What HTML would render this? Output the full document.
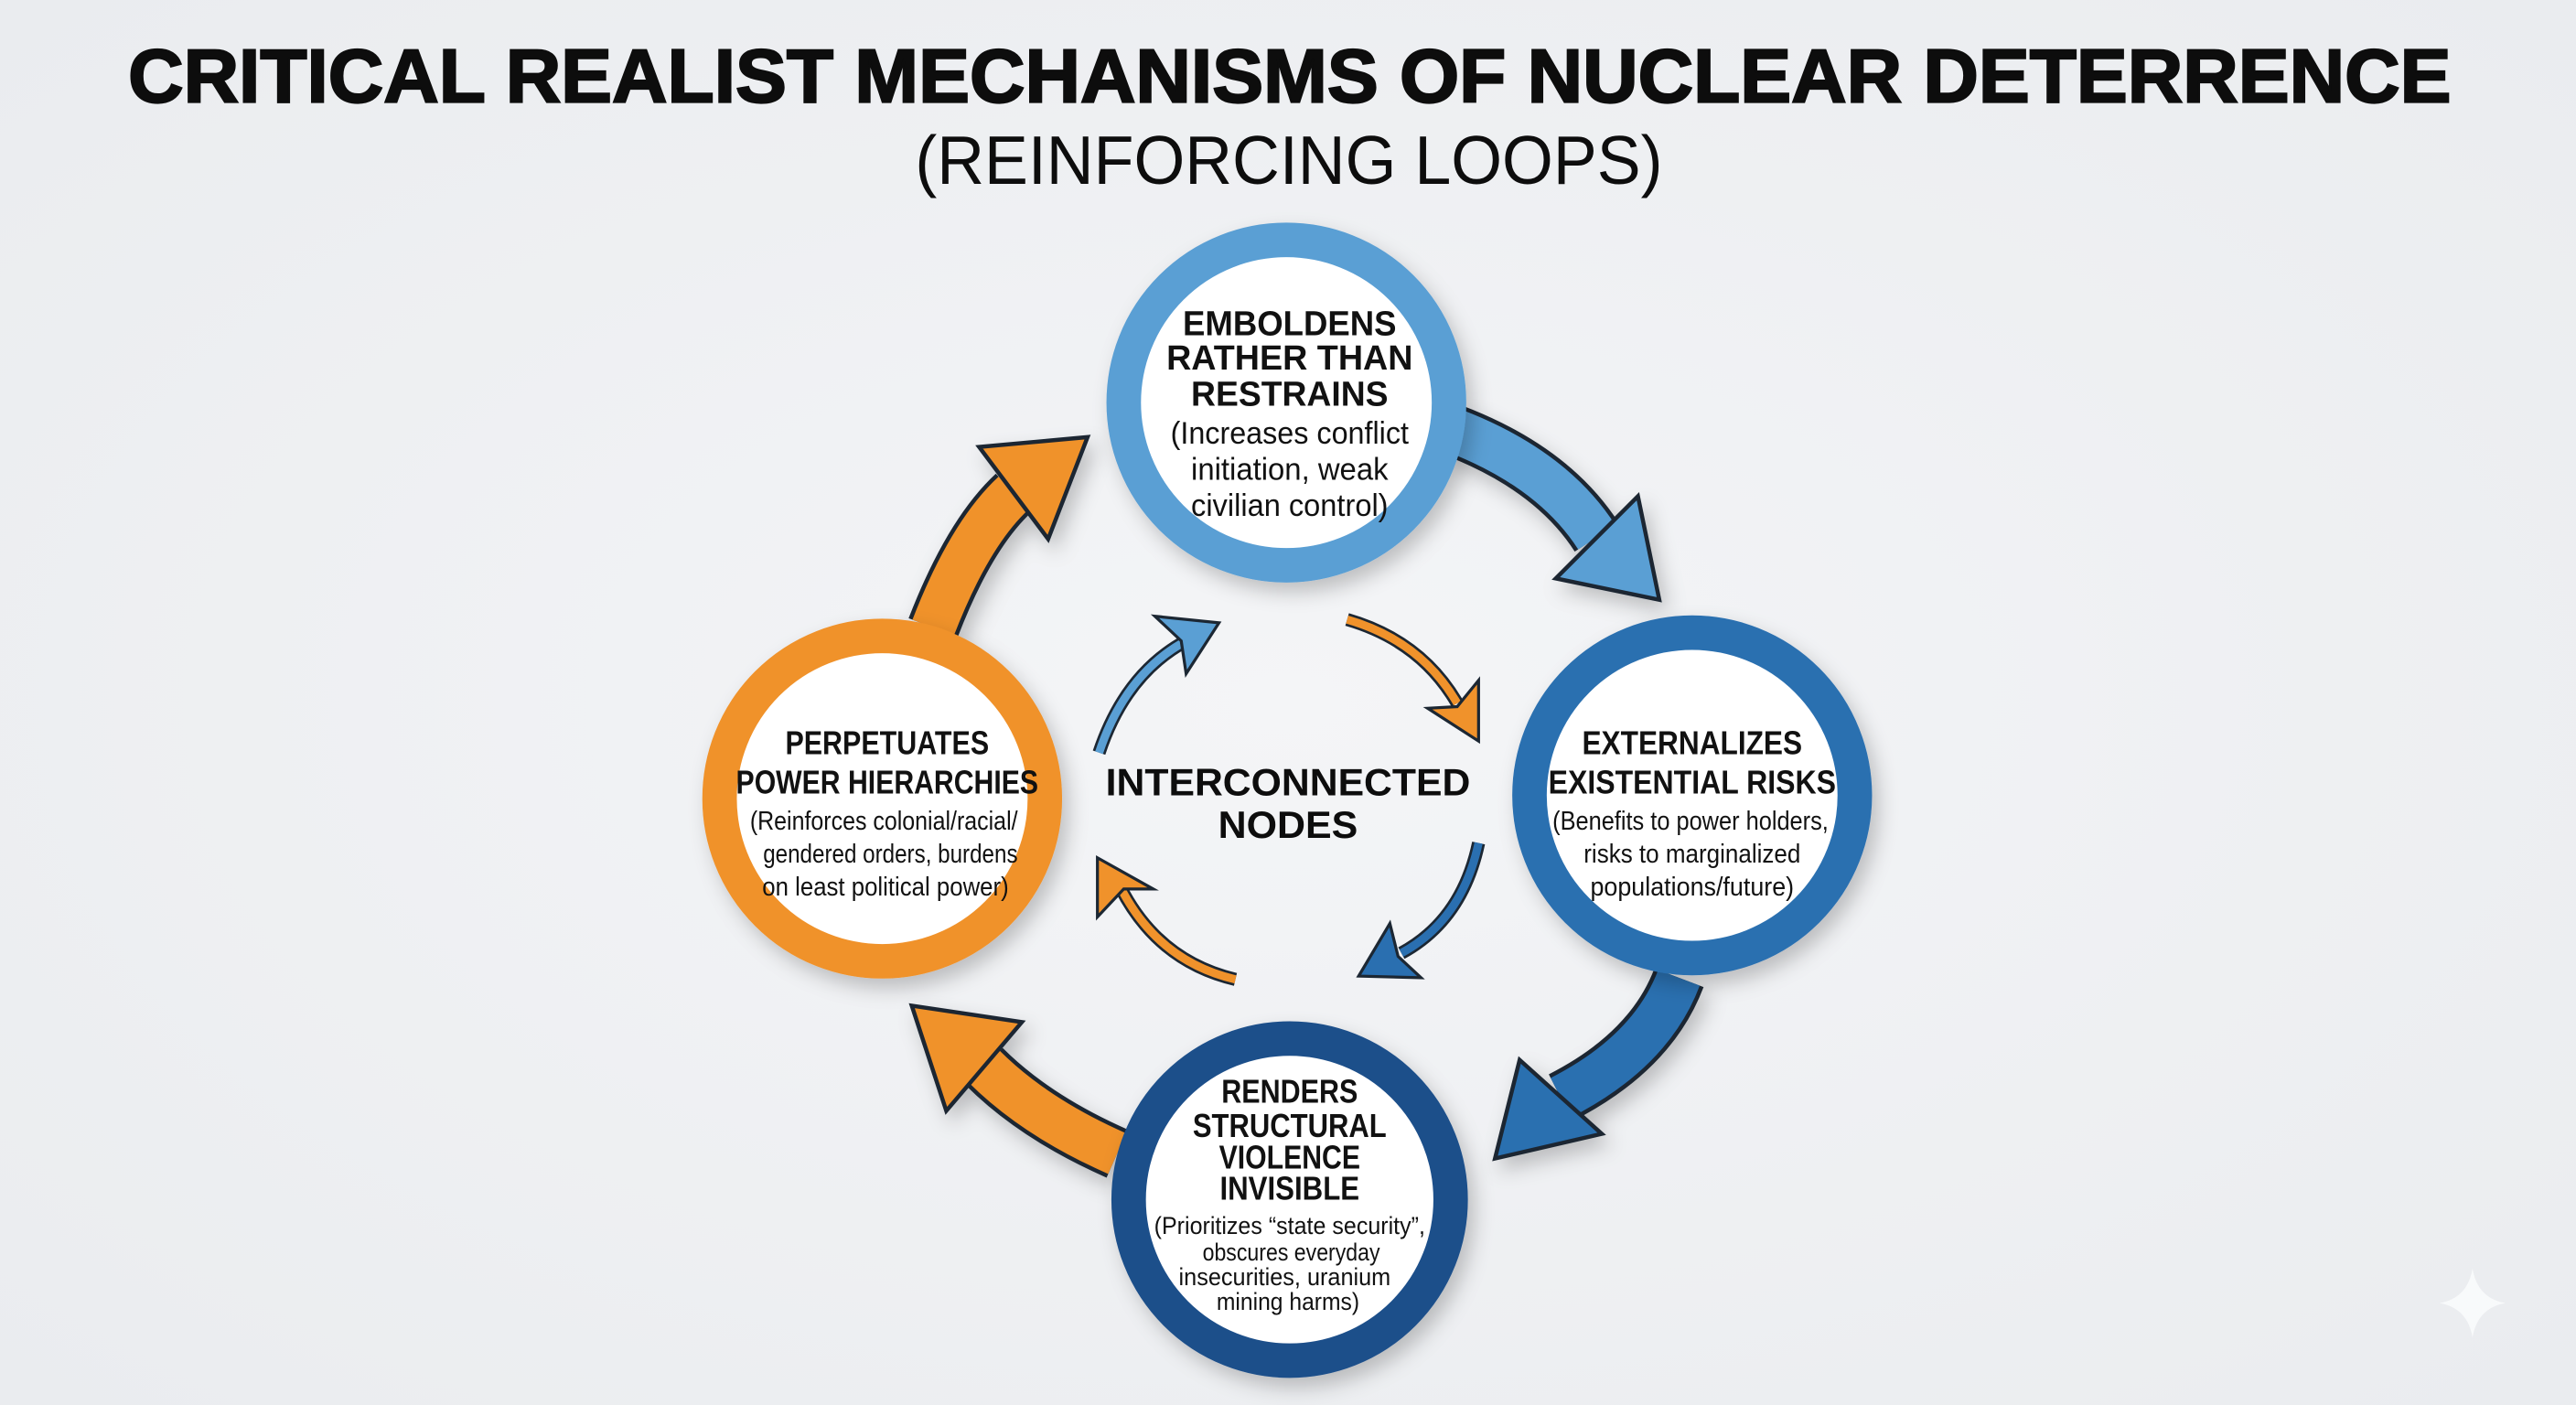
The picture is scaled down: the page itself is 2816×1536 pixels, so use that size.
<!DOCTYPE html>
<html><head><meta charset="utf-8"><style>
html,body{margin:0;padding:0;background:#eef0f3;}
svg{display:block;}
.t{font-family:"Liberation Sans",sans-serif;fill:#0d0d0d;}
.b{font-family:"Liberation Sans Narrow","Liberation Sans",sans-serif;font-weight:bold;fill:#111;text-anchor:middle;}
.r{font-family:"Liberation Sans Narrow","Liberation Sans",sans-serif;fill:#111;text-anchor:middle;}
</style></head><body>
<svg width="2816" height="1536" viewBox="0 0 1568 855" preserveAspectRatio="none" xmlns="http://www.w3.org/2000/svg">
<defs>
<filter id="sh" x="-30%" y="-30%" width="160%" height="160%"><feDropShadow dx="4" dy="6" stdDeviation="6" flood-color="#000" flood-opacity="0.22"/></filter>
<radialGradient id="bg" cx="50%" cy="50%" r="70%"><stop offset="0" stop-color="#f4f5f7"/><stop offset="1" stop-color="#eaecef"/></radialGradient>
</defs>
<rect width="1568" height="855" fill="url(#bg)"/>

<text class="t" x="78" y="62" font-size="46" font-weight="900" textLength="1414" lengthAdjust="spacingAndGlyphs" stroke="#0d0d0d" stroke-width="1.2">CRITICAL REALIST MECHANISMS OF NUCLEAR DETERRENCE</text>
<text class="t" x="557" y="112" font-size="42" textLength="455" lengthAdjust="spacingAndGlyphs">(REINFORCING LOOPS)</text>

<!-- outer arrows -->
<g stroke-linejoin="miter" filter="url(#sh)">
 <path d="M885,262 Q945,285 972,327" fill="none" stroke="#1c2733" stroke-width="32"/>
 <path d="M885,262 Q945,285 972,327" fill="none" stroke="#5a9fd4" stroke-width="27"/>
 <polygon points="1010,365 947,352 997,302" fill="#5a9fd4" stroke="#1c2733" stroke-width="2.5"/>

 <path d="M1022,595 Q1005,640 950,668" fill="none" stroke="#1c2733" stroke-width="32"/>
 <path d="M1022,595 Q1005,640 950,668" fill="none" stroke="#2a6fb0" stroke-width="27"/>
 <polygon points="910,705 925,645 975,690" fill="#2a6fb0" stroke="#1c2733" stroke-width="2.5"/>

 <path d="M680,702 Q630,680 599,649" fill="none" stroke="#1c2733" stroke-width="32"/>
 <path d="M680,702 Q630,680 599,649" fill="none" stroke="#f0922b" stroke-width="27"/>
 <polygon points="555,612 622,622 576,676" fill="#f0922b" stroke="#1c2733" stroke-width="2.5"/>

 <path d="M568,382 Q590,325 617,300" fill="none" stroke="#1c2733" stroke-width="32"/>
 <path d="M568,382 Q590,325 617,300" fill="none" stroke="#f0922b" stroke-width="27"/>
 <polygon points="662,266 638,328 596,272" fill="#f0922b" stroke="#1c2733" stroke-width="2.5"/>
</g>

<!-- inner arrows -->
<g stroke-linecap="butt">
 <path d="M669,458 Q685,410 722,390" fill="none" stroke="#1c2733" stroke-width="8"/>
 <path d="M669,458 Q685,410 722,390" fill="none" stroke="#5a9fd4" stroke-width="5"/>
 <polygon points="742,379 703,375 719,390 722,410" fill="#5a9fd4" stroke="#1c2733" stroke-width="1.8"/>

 <path d="M820,377 Q865,390 887,428" fill="none" stroke="#1c2733" stroke-width="8"/>
 <path d="M820,377 Q865,390 887,428" fill="none" stroke="#f0922b" stroke-width="5"/>
 <polygon points="900,451 900,414 887,430 869,431" fill="#f0922b" stroke="#1c2733" stroke-width="1.8"/>

 <path d="M900,513 Q890,560 853,580" fill="none" stroke="#1c2733" stroke-width="8"/>
 <path d="M900,513 Q890,560 853,580" fill="none" stroke="#2a6fb0" stroke-width="5"/>
 <polygon points="827,594 846,562 851,582 865,595" fill="#2a6fb0" stroke="#1c2733" stroke-width="1.8"/>

 <path d="M752,596 Q705,585 682,540" fill="none" stroke="#1c2733" stroke-width="8"/>
 <path d="M752,596 Q705,585 682,540" fill="none" stroke="#f0922b" stroke-width="5"/>
 <polygon points="668,522 702,541 684,541 668,558" fill="#f0922b" stroke="#1c2733" stroke-width="1.8"/>
</g>

<text class="t" x="784" y="484" font-size="23" font-weight="bold" text-anchor="middle" textLength="222" lengthAdjust="spacingAndGlyphs">INTERCONNECTED</text>
<text class="t" x="784" y="510" font-size="23" font-weight="bold" text-anchor="middle" textLength="85" lengthAdjust="spacingAndGlyphs">NODES</text>

<!-- circles -->
<g filter="url(#sh)">
 <circle cx="783" cy="245" r="99" fill="#fff" stroke="#5a9fd4" stroke-width="21"/>
 <circle cx="537" cy="486" r="99" fill="#fff" stroke="#f0922b" stroke-width="21"/>
 <circle cx="1030" cy="484" r="99" fill="#fff" stroke="#2a6fb0" stroke-width="21"/>
 <circle cx="785" cy="730" r="98" fill="#fff" stroke="#1f4f8a" stroke-width="21"/>
</g>

<!-- top text -->
<text class="b" x="785" y="204" font-size="21" textLength="130" lengthAdjust="spacingAndGlyphs">EMBOLDENS</text>
<text class="b" x="785" y="225" font-size="21" textLength="150" lengthAdjust="spacingAndGlyphs">RATHER THAN</text>
<text class="b" x="785" y="247" font-size="21" textLength="120" lengthAdjust="spacingAndGlyphs">RESTRAINS</text>
<text class="r" x="785" y="270" font-size="19" textLength="145" lengthAdjust="spacingAndGlyphs">(Increases conflict</text>
<text class="r" x="785" y="292" font-size="19" textLength="120" lengthAdjust="spacingAndGlyphs">initiation, weak</text>
<text class="r" x="785" y="314" font-size="19" textLength="120" lengthAdjust="spacingAndGlyphs">civilian control)</text>

<!-- left text -->
<text class="b" x="540" y="459" font-size="20" textLength="124" lengthAdjust="spacingAndGlyphs">PERPETUATES</text>
<text class="b" x="540" y="483" font-size="20" textLength="184" lengthAdjust="spacingAndGlyphs">POWER HIERARCHIES</text>
<text class="r" x="538" y="505" font-size="16" textLength="163" lengthAdjust="spacingAndGlyphs">(Reinforces colonial/racial/</text>
<text class="r" x="542" y="525" font-size="16" textLength="155" lengthAdjust="spacingAndGlyphs">gendered orders, burdens</text>
<text class="r" x="539" y="545" font-size="16" textLength="150" lengthAdjust="spacingAndGlyphs">on least political power)</text>

<!-- right text -->
<text class="b" x="1030" y="459" font-size="20" textLength="134" lengthAdjust="spacingAndGlyphs">EXTERNALIZES</text>
<text class="b" x="1030" y="483" font-size="20" textLength="175" lengthAdjust="spacingAndGlyphs">EXISTENTIAL RISKS</text>
<text class="r" x="1029" y="505" font-size="16" textLength="168" lengthAdjust="spacingAndGlyphs">(Benefits to power holders,</text>
<text class="r" x="1030" y="525" font-size="16" textLength="132" lengthAdjust="spacingAndGlyphs">risks to marginalized</text>
<text class="r" x="1030" y="545" font-size="16" textLength="124" lengthAdjust="spacingAndGlyphs">populations/future)</text>

<!-- bottom text -->
<text class="b" x="785" y="671" font-size="20" textLength="83" lengthAdjust="spacingAndGlyphs">RENDERS</text>
<text class="b" x="785" y="692" font-size="20" textLength="118" lengthAdjust="spacingAndGlyphs">STRUCTURAL</text>
<text class="b" x="785" y="711" font-size="20" textLength="86" lengthAdjust="spacingAndGlyphs">VIOLENCE</text>
<text class="b" x="785" y="730" font-size="20" textLength="85" lengthAdjust="spacingAndGlyphs">INVISIBLE</text>
<text class="r" x="785" y="751" font-size="15" textLength="165" lengthAdjust="spacingAndGlyphs">(Prioritizes “state security”,</text>
<text class="r" x="786" y="767" font-size="15" textLength="108" lengthAdjust="spacingAndGlyphs">obscures everyday</text>
<text class="r" x="782" y="782" font-size="15" textLength="129" lengthAdjust="spacingAndGlyphs">insecurities, uranium</text>
<text class="r" x="784" y="797" font-size="15" textLength="87" lengthAdjust="spacingAndGlyphs">mining harms)</text>

<!-- sparkle -->
<path d="M1505,772 Q1508,790 1525,793 Q1508,796 1505,814 Q1502,796 1485,793 Q1502,790 1505,772 Z" fill="#fafbfc" opacity="0.9"/>
</svg>
</body></html>
